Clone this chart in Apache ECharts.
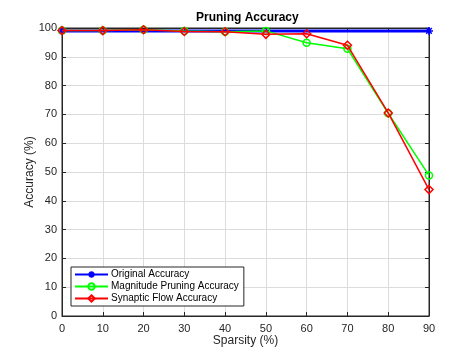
<!DOCTYPE html>
<html>
<head>
<meta charset="utf-8">
<script src="https://cdn.jsdelivr.net/npm/echarts@6/dist/echarts.min.js"></script>
<style>html,body{margin:0;padding:0;background:#fff;}#c{width:474px;height:355px;}</style>
</head>
<body>
<div id="c"></div>
<script>
const sparsity = [0, 10, 20, 30, 40, 50, 60, 70, 80, 90];
const originalX = [0, 90];
const originalAcc = [99.0, 99.0];
const magnitudeAcc = [99.1, 99.1, 99.4, 99.0, 98.7, 99.0, 94.9, 92.8, 70.4, 48.8];
const synflowAcc = [99.1, 99.1, 99.4, 98.8, 98.7, 97.8, 98.0, 94.0, 70.5, 43.9];
const xTicks = [0, 10, 20, 30, 40, 50, 60, 70, 80, 90];
const yTicks = [0, 10, 20, 30, 40, 50, 60, 70, 80, 90, 100];

const asterisk = 'path://M0,5L10,5M5,0L5,10M1.5,1.5L8.5,8.5M8.5,1.5L1.5,8.5';
const font = 'Liberation Sans, Arial, Helvetica, sans-serif';
const axisCol = '#262626';

const chart = echarts.init(document.getElementById('c'), null, {renderer: 'canvas'});
const axisCommon = {
  axisLine: {show: true, onZero: false, lineStyle: {color: axisCol, width: 1}},
  axisTick: {show: true, inside: true, length: 4, lineStyle: {color: axisCol}},
  splitLine: {show: true, lineStyle: {color: '#dcdcdc', width: 1}},
  axisLabel: {color: axisCol, fontSize: 11, fontFamily: font},
  nameTextStyle: {color: axisCol, fontSize: 12, fontFamily: font},
  nameMoveOverlap: false
};
const mirror = {
  axisLine: {show: true, onZero: false, lineStyle: {color: axisCol, width: 1}},
  axisTick: {show: true, inside: true, length: 4, lineStyle: {color: axisCol}},
  splitLine: {show: false}, axisLabel: {show: false}
};
chart.setOption({
  animation: false,
  backgroundColor: '#fff',
  title: {
    text: 'Pruning Accuracy', left: 191, top: 7,
    textStyle: {fontSize: 12, fontWeight: 'bold', color: '#000', fontFamily: font}
  },
  grid: {left: 62, right: 45, top: 28, bottom: 39, show: true, borderColor: axisCol, borderWidth: 1, backgroundColor: '#fff'},
  xAxis: [Object.assign({}, axisCommon, {
    type: 'value', min: 0, max: 90, interval: 10,
    name: 'Sparsity (%)', nameLocation: 'middle', nameGap: 19,
    axisLabel: Object.assign({}, axisCommon.axisLabel, {margin: 7,
      formatter: v => xTicks.includes(v) ? String(v) : ''})
  }), Object.assign({}, mirror, {type: 'value', position: 'top', min: 0, max: 90, interval: 10})],
  yAxis: [Object.assign({}, axisCommon, {
    type: 'value', min: 0, max: 100, interval: 10,
    name: 'Accuracy (%)', nameLocation: 'middle', nameGap: 26,
    axisLabel: Object.assign({}, axisCommon.axisLabel, {margin: 5,
      formatter: v => yTicks.includes(v) ? String(v) : ''})
  }), Object.assign({}, mirror, {type: 'value', position: 'right', min: 0, max: 100, interval: 10})],
  legend: {
    orient: 'vertical', left: 71, top: 267,
    itemWidth: 33, itemHeight: 8, itemGap: 1,
    padding: [2, 5, 2, 3],
    borderColor: axisCol, borderWidth: 1, backgroundColor: '#fff',
    textStyle: {fontSize: 10, lineHeight: 11, color: '#000', fontFamily: font, padding: [0, 0, 0, -2]},
    data: ['Original Accuracy', 'Magnitude Pruning Accuracy', 'Synaptic Flow Accuracy']
  },
  series: [
    {
      name: 'Original Accuracy', type: 'line',
      data: originalX.map((x, i) => [x, originalAcc[i]]),
      symbol: asterisk, symbolSize: 8,
      itemStyle: {color: '#0000ff', borderColor: '#0000ff', borderWidth: 1.5},
      lineStyle: {color: '#0000ff', width: 3}, z: 2
    },
    {
      name: 'Magnitude Pruning Accuracy', type: 'line',
      data: sparsity.map((x, i) => [x, magnitudeAcc[i]]),
      symbol: 'circle', symbolSize: 7,
      itemStyle: {color: 'rgba(0,0,0,0)', borderColor: '#00ff00', borderWidth: 1.5},
      lineStyle: {color: '#00ff00', width: 1.5}, z: 3
    },
    {
      name: 'Synaptic Flow Accuracy', type: 'line',
      data: sparsity.map((x, i) => [x, synflowAcc[i]]),
      symbol: 'diamond', symbolSize: 8,
      itemStyle: {color: 'rgba(0,0,0,0)', borderColor: '#ff0000', borderWidth: 1.5},
      lineStyle: {color: '#ff0000', width: 1.5}, z: 4
    }
  ]
});
</script>
</body>
</html>
